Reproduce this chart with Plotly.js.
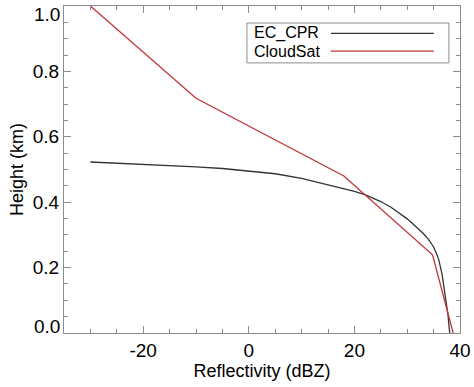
<!DOCTYPE html>
<html>
<head>
<meta charset="utf-8">
<script src="https://cdn.plot.ly/plotly-3.0.1.min.js"></script>
<style>html,body{margin:0;padding:0;background:#fff;}#chart{width:474px;height:387px;}</style>
</head>
<body>
<div id="chart"></div>
<script>
// EC_CPR reflectivity profile (dBZ) vs height (km)
const ecX = [-30, -20, -10, -5, 0, 5, 10, 15, 20, 22, 25, 27, 29, 30, 31, 32, 33, 34, 34.5, 35, 35.5, 36, 36.6, 37.2, 37.7, 38.05];
const ecY = [0.523, 0.516, 0.508, 0.503, 0.496, 0.487, 0.473, 0.454, 0.433, 0.423, 0.402, 0.384, 0.362, 0.349, 0.335, 0.321, 0.305, 0.287, 0.276, 0.263, 0.245, 0.223, 0.18, 0.118, 0.058, 0.0];
// CloudSat reflectivity profile
const csX = [-30, -10, 18, 34.8, 38.7];
const csY = [1.0, 0.718, 0.48, 0.239, 0.0];
const seriesNames = ["EC_CPR", "CloudSat"];
const seriesColors = ["#333333", "#c0343a"];
// tick labels
const xTickVals = [-20, 0, 20, 40];
const xTickText = ["-20", "0", "20", "40"];
const yTickVals = [0.2, 0.4, 0.6, 0.8];
const yTickText = ["0.2", "0.4", "0.6", "0.8"];
// edge labels (IDL keeps them inside the axis span)
const yEdgeVals = [0.0, 1.0];
const yEdgeText = ["0.0", "1.0"];

const fam = "Liberation Sans, Arial, sans-serif";
const tickFont = {family: fam, size: 19, color: "#000"};
const titleFont = {family: fam, size: 18, color: "#000"};
const axisCol = "#8c8c8c";

const traces = [
  {x: ecX, y: ecY, mode: "lines", name: seriesNames[0], line: {color: seriesColors[0], width: 1.3}, showlegend: false},
  {x: csX, y: csY, mode: "lines", name: seriesNames[1], line: {color: seriesColors[1], width: 1.3}, showlegend: false}
];

// Custom IDL-style legend (text left, line sample right)
const lx0 = 0.462, lx1 = 0.972, ly0 = 0.826, ly1 = 0.948;
const rows = [0.916, 0.862];
const shapes = [
  {type: "rect", xref: "paper", yref: "paper", x0: lx0, x1: lx1, y0: ly0, y1: ly1, line: {color: axisCol, width: 1}, fillcolor: "rgba(255,255,255,0)"}
];
const annotations = [];
seriesNames.forEach((n, i) => {
  shapes.push({type: "line", xref: "paper", yref: "paper", x0: 0.674, x1: 0.934, y0: rows[i], y1: rows[i], line: {color: seriesColors[i], width: 1.3}});
  annotations.push({xref: "paper", yref: "paper", x: 0.476, y: rows[i], xanchor: "left", yanchor: "middle", text: n, showarrow: false, font: {family: fam, size: 16, color: "#000"}});
});
yEdgeVals.forEach((v, i) => {
  annotations.push({xref: "paper", yref: "y", x: 0, y: v, xanchor: "right", yanchor: v === 0 ? "bottom" : "top", xshift: -2, yshift: v === 0 ? -6 : 4, text: yEdgeText[i], showarrow: false, font: tickFont});
});

const layout = {
  width: 474, height: 387,
  margin: {l: 64, r: 14, t: 6, b: 54},
  paper_bgcolor: "#fff", plot_bgcolor: "#fff",
  font: tickFont,
  showlegend: false,
  xaxis: {
    range: [-35, 40], tickmode: "array", tickvals: xTickVals, ticktext: xTickText,
    ticks: "inside", ticklen: 7, tickcolor: axisCol, tickwidth: 1,
    minor: {dtick: 5, tick0: 0, ticklen: 4, tickcolor: axisCol, ticks: "inside"},
    showline: true, linecolor: axisCol, linewidth: 1, mirror: "allticks",
    showgrid: false, zeroline: false,
    ticklabeloverflow: "allow",
    tickfont: tickFont,
    title: {text: "Reflectivity (dBZ)", font: titleFont, standoff: 2}
  },
  yaxis: {
    range: [0, 1], tickmode: "array", tickvals: yTickVals, ticktext: yTickText,
    ticks: "inside", ticklen: 7, tickcolor: axisCol, tickwidth: 1,
    minor: {dtick: 0.05, tick0: 0, ticklen: 4, tickcolor: axisCol, ticks: "inside"},
    showline: true, linecolor: axisCol, linewidth: 1, mirror: "allticks",
    showgrid: false, zeroline: false,
    tickfont: tickFont,
    title: {text: "Height (km)", font: titleFont, standoff: 4}
  },
  shapes: shapes,
  annotations: annotations
};

Plotly.newPlot("chart", traces, layout, {staticPlot: true, displayModeBar: false});
</script>
</body>
</html>
